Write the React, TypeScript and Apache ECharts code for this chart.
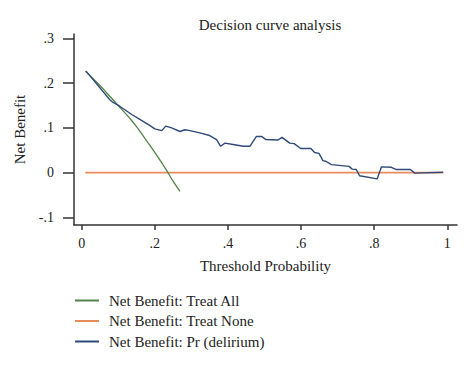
import React, { useEffect, useRef } from "react";
import * as echarts from "echarts";

const titleText = "Decision curve analysis";
const xName = "Threshold Probability";
const yName = "Net Benefit";
const seriesNames = ["Net Benefit: Treat All", "Net Benefit: Treat None", "Net Benefit: Pr (delirium)"];
const xTicks = [0, 0.2, 0.4, 0.6, 0.8, 1];
const xTickLabels = ["0", ".2", ".4", ".6", ".8", "1"];
const yTicks = [-0.1, 0, 0.1, 0.2, 0.3];
const yTickLabels = ["-.1", "0", ".1", ".2", ".3"];

const treatAllX = [0.01, 0.03, 0.05, 0.07, 0.09, 0.11, 0.13, 0.15, 0.17, 0.19, 0.21, 0.23, 0.25, 0.269];
const treatAllY = [0.227, 0.211, 0.195, 0.177, 0.159, 0.141, 0.123, 0.103, 0.08, 0.057, 0.033, 0.008, -0.019, -0.042];

const treatNoneX = [0.01, 0.99];
const treatNoneY = [0, 0];

const modelX = [0.012, 0.077, 0.086, 0.105, 0.137, 0.159, 0.187, 0.2, 0.219, 0.23, 0.246, 0.269, 0.282, 0.296, 0.323, 0.35, 0.369, 0.38, 0.392, 0.414, 0.442, 0.46, 0.478, 0.492, 0.504, 0.537, 0.548, 0.569, 0.581, 0.599, 0.627, 0.637, 0.649, 0.66, 0.669, 0.683, 0.731, 0.74, 0.751, 0.76, 0.808, 0.82, 0.847, 0.861, 0.899, 0.911, 0.988];
const modelY = [0.227, 0.163, 0.157, 0.148, 0.13, 0.119, 0.105, 0.098, 0.094, 0.104, 0.1, 0.092, 0.096, 0.094, 0.089, 0.083, 0.074, 0.059, 0.066, 0.063, 0.059, 0.059, 0.081, 0.081, 0.074, 0.073, 0.079, 0.066, 0.065, 0.054, 0.054, 0.045, 0.043, 0.027, 0.025, 0.018, 0.014, 0.008, 0.007, -0.007, -0.014, 0.013, 0.012, 0.007, 0.007, -0.001, 0.001];

const colors = ["#4f8546", "#e88b5e", "#2f4a78"];
const FONT = "Liberation Serif";

const zip = (xs: number[], ys: number[]) => xs.map((x, i) => [x, ys[i]]);

export default function App() {
  const ref = useRef<HTMLDivElement>(null);
  useEffect(() => {
    if (!ref.current) return;
    const chart = echarts.init(ref.current, undefined, { renderer: "svg" });
    const axisCommon = {
      axisLine: { show: true, onZero: false, lineStyle: { color: "#333", width: 1.5 } },
      splitLine: { show: false },
    };
    chart.setOption({
      animation: false,
      backgroundColor: "#fff",
      textStyle: { fontFamily: FONT },
      title: {
        text: titleText,
        left: 265,
        top: 12,
        textAlign: "center",
        textStyle: { fontFamily: FONT, fontSize: 15, fontWeight: "normal", color: "#222" },
      },
      grid: { left: 74, right: 17, top: 34, bottom: 141, containLabel: false },
      xAxis: {
        type: "value",
        min: -0.021,
        max: 1.0265,
        name: xName,
        nameLocation: "middle",
        nameGap: 33,
        nameTextStyle: { fontFamily: FONT, fontSize: 15, color: "#222" },
        ...axisCommon,
        axisTick: { show: true, customValues: xTicks, length: 5, lineStyle: { color: "#333", width: 1.5 } },
        axisLabel: {
          customValues: xTicks,
          margin: 11,
          fontFamily: FONT,
          fontSize: 14,
          color: "#222",
          formatter: (v: number) => {
            const i = xTicks.findIndex((t) => Math.abs(t - v) < 1e-6);
            return i >= 0 ? xTickLabels[i] : "";
          },
        },
      },
      yAxis: {
        type: "value",
        min: -0.117,
        max: 0.31,
        name: yName,
        nameLocation: "middle",
        nameGap: 41,
        nameRotate: 90,
        nameTextStyle: { fontFamily: FONT, fontSize: 15, color: "#222" },
        ...axisCommon,
        axisTick: { show: true, customValues: yTicks, length: 11, lineStyle: { color: "#333", width: 1.5 } },
        axisLabel: {
          customValues: yTicks,
          margin: 20,
          fontFamily: FONT,
          fontSize: 14,
          color: "#222",
          formatter: (v: number) => {
            const i = yTicks.findIndex((t) => Math.abs(t - v) < 1e-6);
            return i >= 0 ? yTickLabels[i] : "";
          },
        },
      },
      legend: {
        orient: "vertical",
        left: 70,
        top: 288,
        itemWidth: 24,
        itemHeight: 2,
        itemGap: 5.5,
        icon: "rect",
        data: seriesNames,
        textStyle: { fontFamily: FONT, fontSize: 15, color: "#222", padding: [0, 0, 0, 5] },
      },
      series: [
        {
          name: seriesNames[0],
          type: "line",
          data: zip(treatAllX, treatAllY),
          symbol: "none",
          smooth: true,
          lineStyle: { color: colors[0], width: 1.3 },
          itemStyle: { color: colors[0] },
          z: 3,
        },
        {
          name: seriesNames[1],
          type: "line",
          data: zip(treatNoneX, treatNoneY),
          symbol: "none",
          lineStyle: { color: colors[1], width: 1.8 },
          itemStyle: { color: colors[1] },
          z: 2,
        },
        {
          name: seriesNames[2],
          type: "line",
          data: zip(modelX, modelY),
          symbol: "none",
          lineStyle: { color: colors[2], width: 1.4 },
          itemStyle: { color: colors[2] },
          z: 4,
        },
      ],
    });
    return () => chart.dispose();
  }, []);
  return <div ref={ref} style={{ width: 474, height: 366, position: "absolute", left: 0, top: 0 }} />;
}
